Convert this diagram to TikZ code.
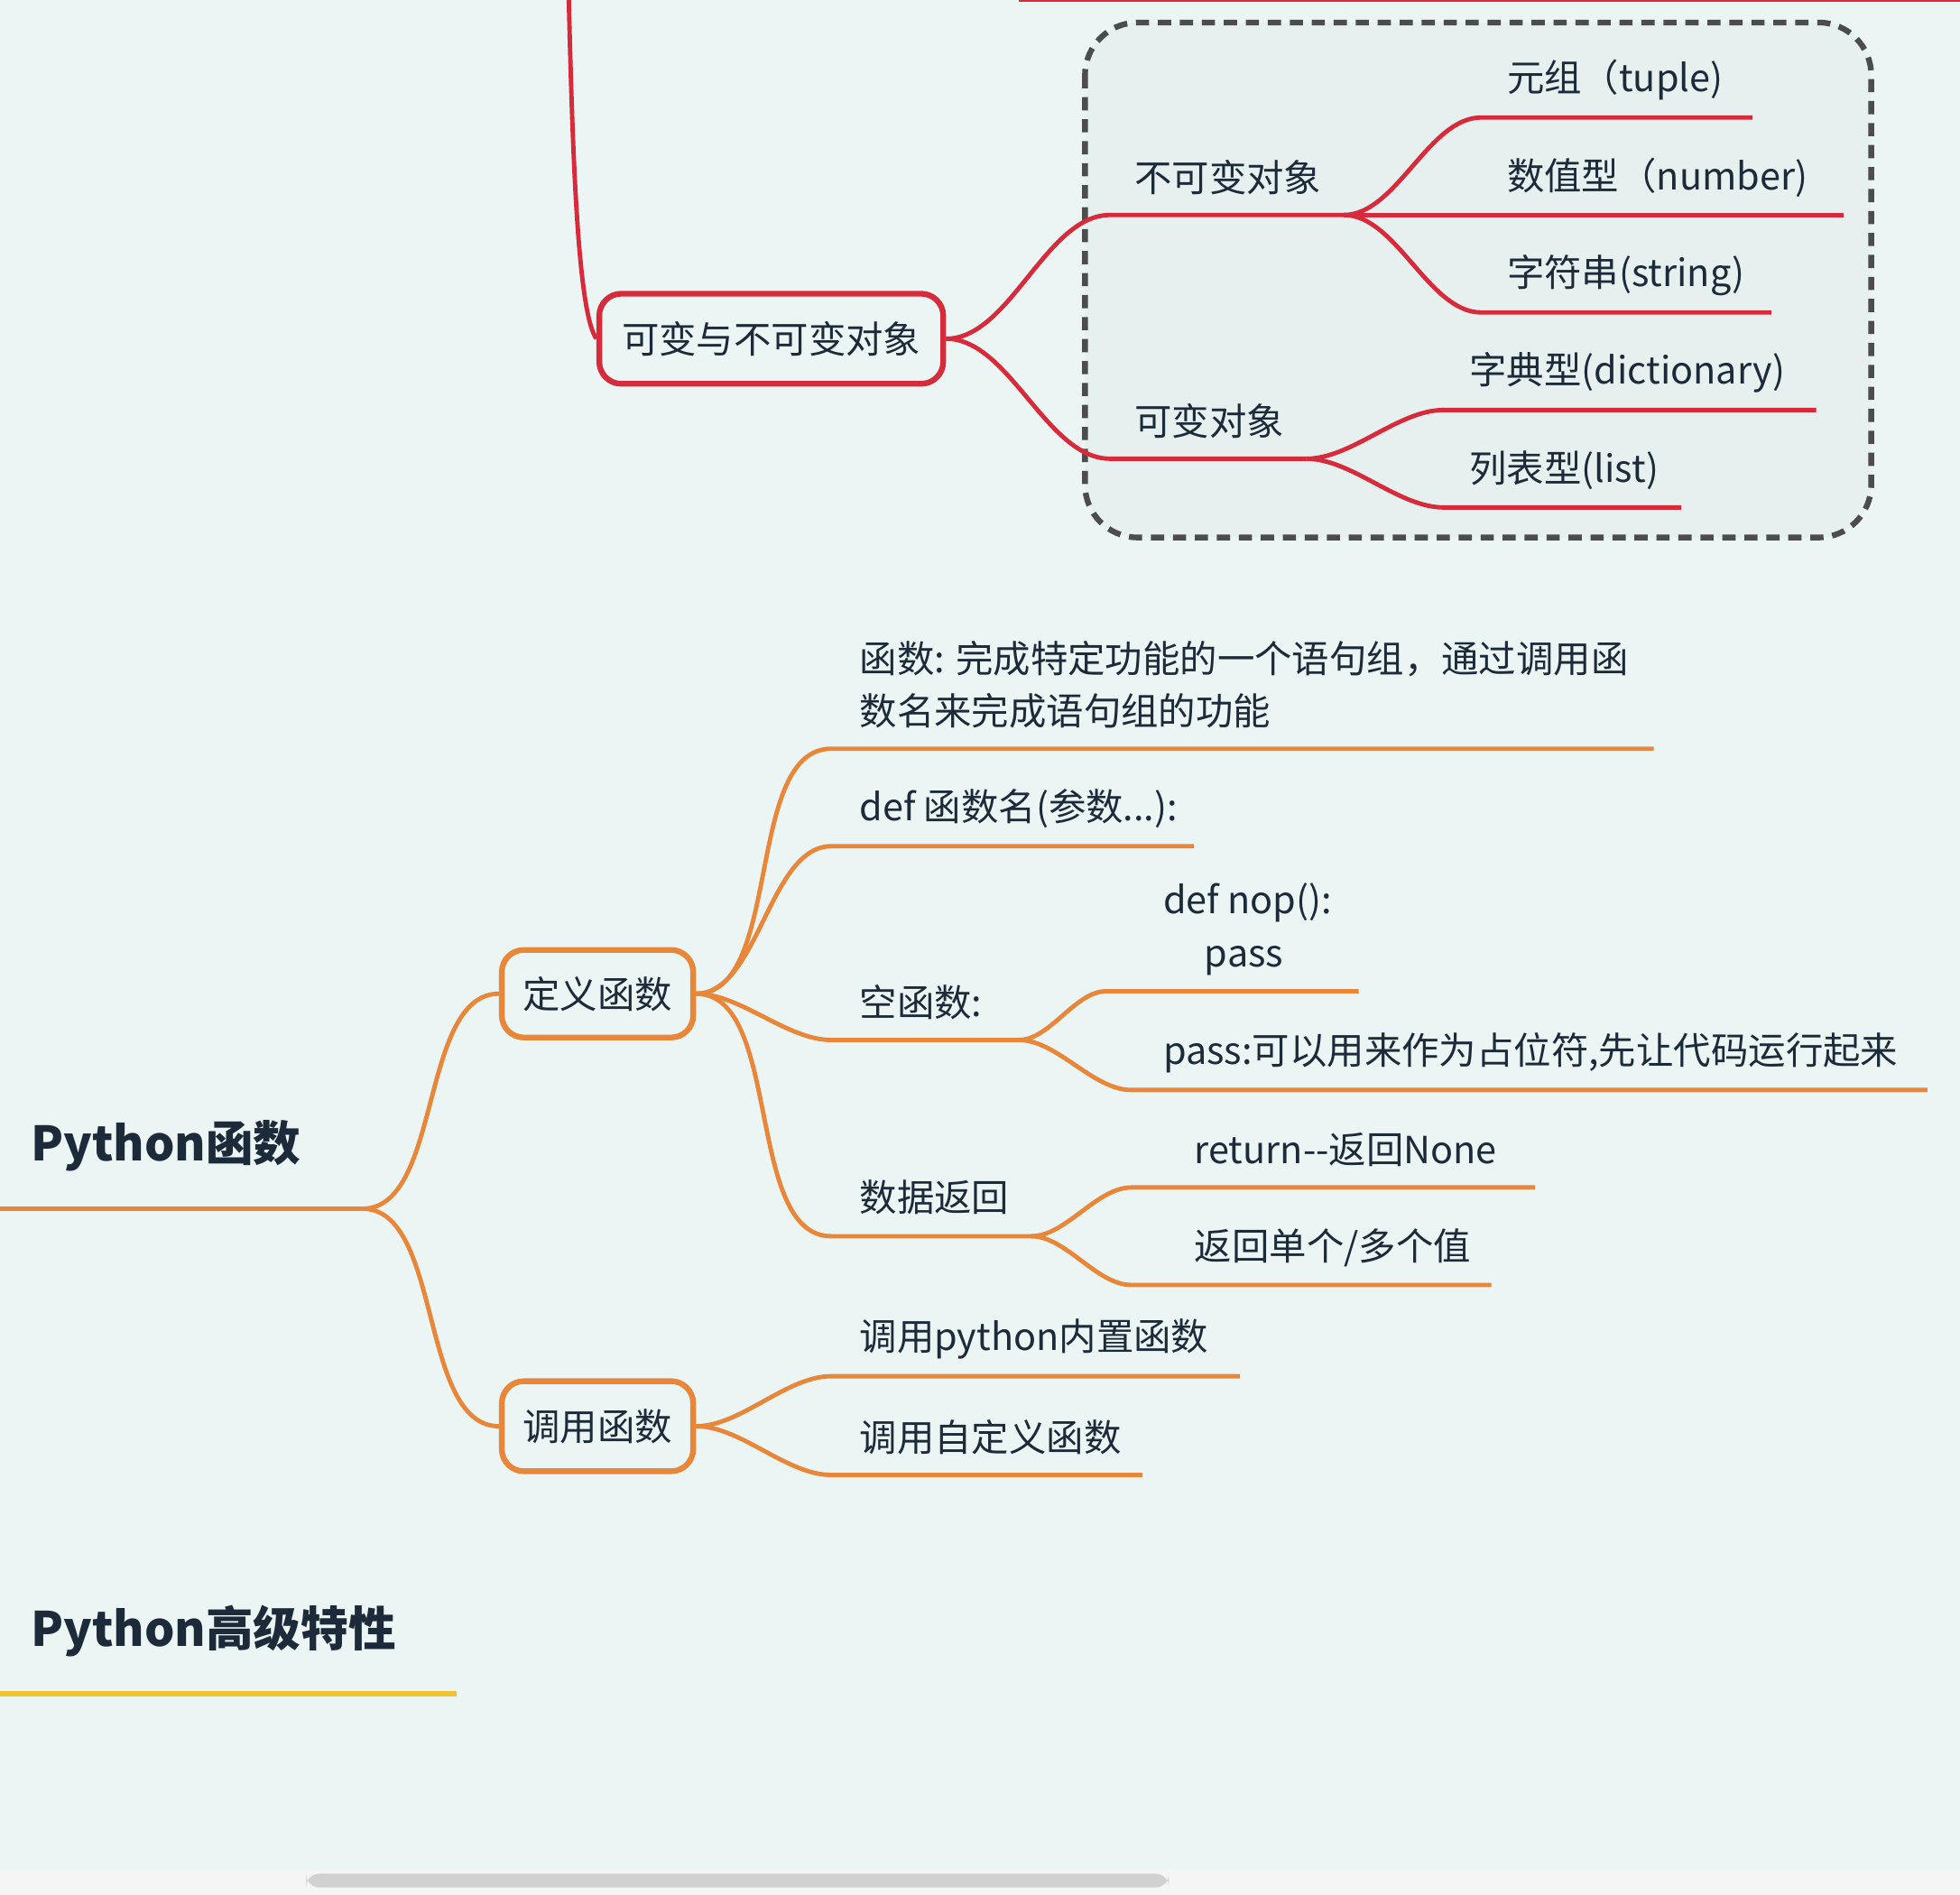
\documentclass[tikz,border=0pt]{standalone}
\usepackage{fontspec}
\setmainfont{Noto Sans CJK SC}
\begin{document}
\begin{tikzpicture}[x=0.01cm,y=-0.01cm,
  redl/.style={draw=cred,line width=1pt},
  orl/.style={draw=cor,line width=1pt},
  box/.style={draw,line width=1.3pt,rounded corners=5pt,fill=bg,text=ctext,font=\fontsize{8.5}{11}\selectfont,inner sep=0pt},
  lbl/.style={anchor=west,text=ctext,font=\fontsize{8.5}{12}\selectfont,inner sep=0pt,align=left},
  big/.style={anchor=west,text=ctext,font=\fontsize{10.8}{14}\selectfont\bfseries,inner sep=0pt},
  crv/.style={out=0,in=180,looseness=0.8}]
\definecolor{bg}{HTML}{EAF5F4}
\definecolor{cred}{HTML}{D72B3C}
\definecolor{cor}{HTML}{E8873A}
\definecolor{cyel}{HTML}{F0C232}
\definecolor{ctext}{HTML}{1D2A3A}
\fill[bg] (0,0) rectangle (1568,1516);
\useasboundingbox (0,0) rectangle (1568,1516);
\fill[black!4] (0,1496) rectangle (1568,1516);
\fill[black!18,rounded corners=3pt] (245,1499) rectangle (935,1510);
% dashed group
\draw[densely dashed,line width=1.3pt,draw=black!70,fill=black!2!bg,rounded corners=12pt] (868,18) rectangle (1497,430);
% red part
\draw[redl] (815,0) -- (1568,0);
\node[box,draw=cred,minimum width=2.75cm,minimum height=0.72cm] (mv) at (617,271) {可变与不可变对象};
\coordinate (top) at (455,-2);
\draw[redl] (top) .. controls (458,120) and (462,250) .. (mv.west);
\coordinate (imS) at (888,172); \coordinate (imE) at (1075,172);
\coordinate (mS) at (888,367); \coordinate (mE) at (1045,367);
\draw[redl] (mv.east) to[crv] (imS) -- (imE);
\draw[redl] (mv.east) to[crv] (mS) -- (mE);
\node[lbl] (t1) at (907,142) {不可变对象};
\node[lbl] (t2) at (907,337) {可变对象};
\foreach \n/\y/\xe/\t in {a/94/1402/元组（tuple),b/172/1475/数值型（number),c/250/1417/字符串(string)}{
  \coordinate (\n S) at (1185,\y); \coordinate (\n E) at (\xe,\y);
  \draw[redl] (imE) to[crv] (\n S) -- (\n E);
  \node[lbl] (\n L) at (1205,\y-30) {\t};}
\foreach \n/\y/\xe/\t in {d/328/1453/字典型(dictionary),e/406/1345/列表型(list)}{
  \coordinate (\n S) at (1155,\y); \coordinate (\n E) at (\xe,\y);
  \draw[redl] (mE) to[crv] (\n S) -- (\n E);
  \node[lbl] (\n L) at (1175,\y-30) {\t};}
% orange part
\coordinate (p0) at (0,967); \coordinate (p1) at (290,967);
\draw[orl] (p0) -- (p1);
\node[big] (pf) at (24,917) {Python函数};
\node[box,draw=cor,minimum width=1.53cm,minimum height=0.70cm] (df) at (478,795) {定义函数};
\node[box,draw=cor,minimum width=1.53cm,minimum height=0.72cm] (cf) at (478,1141) {调用函数};
\draw[orl] (p1) to[crv] (df.west);
\draw[orl] (p1) to[crv] (cf.west);
\foreach \n/\y/\xe in {f1/599/1323,f2/677/955,f3/832/815,f4/989/825}{
  \coordinate (\n S) at (665,\y); \coordinate (\n E) at (\xe,\y);
  \draw[orl] (df.east) to[crv] (\n S) -- (\n E);}
\node[lbl,anchor=north west] (f1L) at (687,512) {函数: 完成特定功能的一个语句组，通过调用函\\数名来完成语句组的功能};
\node[lbl] (f2L) at (687,647) {def 函数名(参数...):};
\node[lbl] (f3L) at (687,802) {空函数:};
\node[lbl] (f4L) at (687,958) {数据返回};
\coordinate (g1S) at (885,793); \coordinate (g1E) at (1087,793);
\coordinate (g2S) at (905,872); \coordinate (g2E) at (1542,872);
\draw[orl] (f3E) to[crv] (g1S) -- (g1E);
\draw[orl] (f3E) to[crv] (g2S) -- (g2E);
\node[lbl,anchor=north west] (g1L) at (930,706) {def nop():\\\hspace*{0.33cm}pass};
\node[lbl] (g2L) at (930,842) {pass:可以用来作为占位符,先让代码运行起来};
\coordinate (h1S) at (905,950); \coordinate (h1E) at (1228,950);
\coordinate (h2S) at (905,1028); \coordinate (h2E) at (1193,1028);
\draw[orl] (f4E) to[crv] (h1S) -- (h1E);
\draw[orl] (f4E) to[crv] (h2S) -- (h2E);
\node[lbl] (h1L) at (955,920) {return{-}{-}返回None};
\node[lbl] (h2L) at (955,998) {返回单个/多个值};
\coordinate (k1S) at (665,1101); \coordinate (k1E) at (992,1101);
\coordinate (k2S) at (665,1180); \coordinate (k2E) at (914,1180);
\draw[orl] (cf.east) to[crv] (k1S) -- (k1E);
\draw[orl] (cf.east) to[crv] (k2S) -- (k2E);
\node[lbl] (k1L) at (687,1071) {调用python内置函数};
\node[lbl] (k2L) at (687,1150) {调用自定义函数};
% yellow
\node[big] (ha) at (24,1305) {Python高级特性};
\coordinate (y0) at (0,1355); \coordinate (y1) at (365,1355);
\draw[draw=cyel,line width=1.3pt] (y0) -- (y1);
\end{tikzpicture}
\end{document}
